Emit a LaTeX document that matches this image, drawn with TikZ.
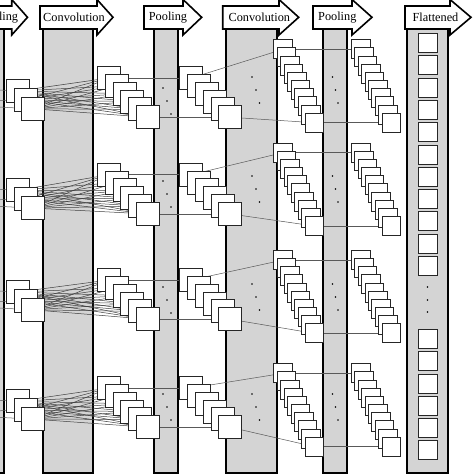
\documentclass[tikz,border=0pt]{standalone}
\usepackage{fontspec}
\setmainfont{Liberation Serif}
\pgfdeclarelayer{bg}
\pgfdeclarelayer{lines}
\pgfsetlayers{bg,lines,main}
\tikzset{
  col/.style={fill=black!17, draw=black, line width=1.8pt},
  hdr/.style={fill=white, draw=black, line width=1.6pt, line join=miter},
  hdrtext/.style={font=\fontsize{12.3}{14}\selectfont, inner sep=0pt},
  sqbase/.style={draw=black!85, fill=white, line width=1pt, inner sep=0pt, anchor=north west},
  sqA/.style={sqbase, minimum width=23pt, minimum height=23pt},
  sqB/.style={sqbase, minimum width=18.5pt, minimum height=19pt},
  sqF/.style={sqbase, minimum width=19pt, minimum height=19pt},
  conn/.style={draw=black!65, line width=0.5pt},
  dense/.style={draw=black!75, line width=0.5pt},
  dotmark/.style={circle, fill=black, inner sep=0pt, minimum size=1.7pt},
}
\newcommand\hdrarrow[3]{%
  \path[hdr] (#1,6) -- (#2,6) -- (#2,-0.5) -- (#3,17.3) -- (#2,35) -- (#2,29) -- (#1,29) -- cycle;}
\begin{document}
\begin{tikzpicture}[x=1pt,y=-1pt]
\useasboundingbox (0,0) rectangle (474,474);
\begin{pgfonlayer}{bg}
  \path[col] (-20,25) rectangle (4,473);
  \path[col] (43,25) rectangle (93,473);
  \path[col] (154,25) rectangle (178,473);
  \path[col] (226,25) rectangle (277,473);
  \path[col] (323,25) rectangle (347,473);
  \path[col] (407,25) rectangle (448,473);
  \hdrarrow{-45}{11.7}{27.5}
  \hdrarrow{40}{97}{113}
  \hdrarrow{144}{183}{201.7}
  \hdrarrow{222.7}{279}{298.7}
  \hdrarrow{313}{352}{372}
  \hdrarrow{405}{450}{471}
  \node[hdrtext] (h0) at (-1,17.5) {Pooling};
  \node[hdrtext] (h1) at (74,17.5) {Convolution};
  \node[hdrtext] (h2) at (168,17.5) {Pooling};
  \node[hdrtext] (h3) at (259.3,17.5) {Convolution};
  \node[hdrtext] (h4) at (337.3,17.5) {Pooling};
  \node[hdrtext] (h5) at (435.5,17.5) {Flattened};
\end{pgfonlayer}

\foreach \r/\yi/\yc/\yk/\dp/\dk in {1/79/66/39.3/88/77, 2/178.3/162.7/142.6/181/176, 3/280/268/250/287/284, 4/389.3/376/363.3/394/394}{
  \foreach \i in {0,1,2} \node[sqA] (in\r-\i) at ({6+7.6*\i},{\yi+8.9*\i}) {};
  \foreach \i in {0,...,5} \node[sqA] (ca\r-\i) at ({97+7.75*\i},{\yc+7.85*\i}) {};
  \foreach \i in {0,...,5} \node[sqA] (pa\r-\i) at ({179.3+7.8*\i},{\yc+7.85*\i}) {};
  \foreach \i in {0,...,9} \node[sqB] (cb\r-\i) at ({273.3+3.52*\i},{\yk+8.16*\i}) {};
  \foreach \i in {0,...,9} \node[sqB] (pb\r-\i) at ({351+3.41*\i},{\yk+8.16*\i}) {};
  \coordinate (L\r-0) at (-2,{\yi+11});
  \coordinate (L\r-1) at (-2,{\yi+21.5});
  \coordinate (L\r-2) at (-2,{\yi+28});
  \begin{pgfonlayer}{lines}
    \foreach \i in {0,1,2}{
      \draw[conn] (L\r-\i) -- (in\r-\i.center);
      \foreach \j in {0,...,5} \draw[dense] (in\r-\i.center) -- (ca\r-\j.center);
    }
    \draw[conn] (ca\r-0.center) -- (pa\r-0.center);
    \draw[conn] (ca\r-5.center) -- (pa\r-5.center);
    \draw[conn] (pa\r-0.center) -- (cb\r-0.center);
    \draw[conn] (pa\r-5.center) -- (cb\r-9.center);
    \draw[conn] (cb\r-0.center) -- (pb\r-0.center);
    \draw[conn] (cb\r-9.center) -- (pb\r-9.center);
  \end{pgfonlayer}
  \node[dotmark] (dpa\r-0) at (163,\dp) {};
  \node[dotmark] (dpa\r-1) at (167,{\dp+13}) {};
  \node[dotmark] (dpa\r-2) at (171,{\dp+26}) {};
  \node[dotmark] (dcb\r-0) at (252,\dk) {};
  \node[dotmark] (dcb\r-1) at (256,{\dk+13}) {};
  \node[dotmark] (dcb\r-2) at (259.5,{\dk+26}) {};
  \node[dotmark] (dpb\r-0) at (332.5,\dk) {};
  \node[dotmark] (dpb\r-1) at (335.5,{\dk+13}) {};
  \node[dotmark] (dpb\r-2) at (338,{\dk+26}) {};
}

\foreach \i in {0,...,10} \node[sqF] (f\i) at (418,{33+22.3*\i}) {};
\foreach \i in {0,...,5} \node[sqF] (g\i) at (418,{329.3+22.1*\i}) {};
\node[dotmark] (fd0) at (427.5,287) {};
\node[dotmark] (fd1) at (427.5,300) {};
\node[dotmark] (fd2) at (427.5,312) {};
\end{tikzpicture}
\end{document}
